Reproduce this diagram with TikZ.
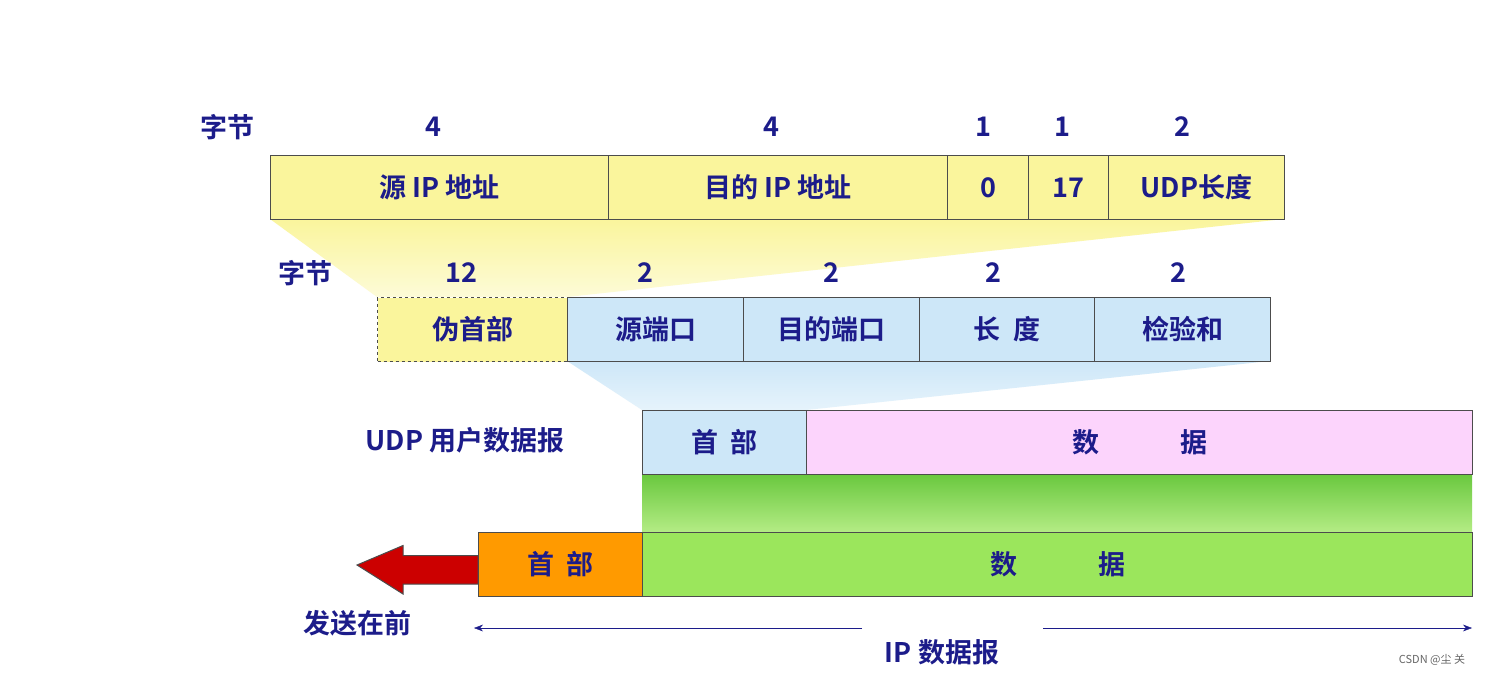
\documentclass[tikz,border=0pt]{standalone}
\usepackage{fontspec}
\setmainfont{Noto Sans CJK SC}[BoldFont={Noto Sans CJK SC Bold}]
\usetikzlibrary{arrows.meta}
\definecolor{tb}{HTML}{1C1C8A}
\definecolor{yel}{HTML}{FAF59C}
\definecolor{lb}{HTML}{CDE7F8}
\definecolor{pk}{HTML}{FCD4FC}
\definecolor{gr}{HTML}{9BE65C}
\definecolor{og}{HTML}{FF9A00}
\tikzset{cell/.style={draw=black!70,line width=1pt,minimum height=64pt,inner sep=0pt,anchor=north west,text=tb,font=\bfseries\fontsize{27}{30}\selectfont},
lbl/.style={text=tb,font=\bfseries\fontsize{27}{30}\selectfont}}
\begin{document}
\begin{tikzpicture}[x=1pt,y=-1pt]
\useasboundingbox[fill=white] (0,0) rectangle (1491,675);
% trapezoids
\shade[top color=yel,bottom color=yel!40] (270,219) -- (1284,219) -- (567,297) -- (377,297) -- cycle;
\shade[top color=lb,bottom color=lb!50] (567,361) -- (1270,361) -- (806,410) -- (642,410) -- cycle;
\shade[top color=gr!80!green!85!black,bottom color=gr!75] (642,474) rectangle (1472,532);
% row 1
\node[cell,fill=yel,minimum width=338pt] (a1) at (270,155) {源 IP 地址};
\node[cell,fill=yel,minimum width=339pt] (a2) at (608,155) {目的 IP 地址};
\node[cell,fill=yel,minimum width=81pt] (a3) at (947,155) {0};
\node[cell,fill=yel,minimum width=80pt] (a4) at (1028,155) {17};
\node[cell,fill=yel,minimum width=176pt] (a5) at (1108,155) {UDP长度};
\node[lbl] (b0) at (227,127) {字节};
\node[lbl] (b1) at (433,127) {4};
\node[lbl] (b2) at (771,127) {4};
\node[lbl] (b3) at (983,127) {1};
\node[lbl] (b4) at (1062,127) {1};
\node[lbl] (b5) at (1182,127) {2};
% row 2
\node[cell,fill=yel,dashed,minimum width=190pt] (c1) at (377,297) {伪首部};
\node[cell,fill=lb,minimum width=176pt] (c2) at (567,297) {源端口};
\node[cell,fill=lb,minimum width=176pt] (c3) at (743,297) {目的端口};
\node[cell,fill=lb,minimum width=175pt] (c4) at (919,297) {长\ \ 度};
\node[cell,fill=lb,minimum width=176pt] (c5) at (1094,297) {检验和};
\node[lbl] (d0) at (305,273) {字节};
\node[lbl] (d1) at (461,273) {12};
\node[lbl] (d2) at (645,273) {2};
\node[lbl] (d3) at (831,273) {2};
\node[lbl] (d4) at (993,273) {2};
\node[lbl] (d5) at (1178,273) {2};
% row 3
\node[cell,fill=lb,minimum width=164pt] (e1) at (642,410) {首\ \ 部};
\node[cell,fill=pk,minimum width=666pt] (e2) at (806,410) {数\qquad\quad 据};
\node[lbl] (ud) at (465,440) {UDP 用户数据报};
% row 4
\node[cell,fill=og,minimum width=164pt] (f1) at (478,532) {首\ \ 部};
\node[cell,fill=gr,minimum width=830pt] (f2) at (642,532) {数\qquad\quad 据};
\coordinate (tip) at (357,565);
\draw[draw=black!70,fill=red!80!black,line width=1pt] (f1.west) ++(0,-9) -- ++(-75,0) -- ++(0,-10) -- (tip) -- ++(46,29) -- ++(0,-10) -- ++(75,0) -- cycle;
\node[lbl] (snd) at (357,623) {发送在前};
\node[lbl] (ip) at (942,652) {IP 数据报};
\coordinate (l1) at (474,628); \coordinate (l2) at (862,628);
\coordinate (r1) at (1043,628); \coordinate (r2) at (1472,628);
\draw[tb,-{Stealth[length=9pt]}] (l2) -- (l1);
\draw[tb,-{Stealth[length=9pt]}] (r1) -- (r2);
\node[text=black!60,font=\fontsize{11}{13}\selectfont] (wm) at (1432,660) {CSDN @尘 关};
\end{tikzpicture}
\end{document}
